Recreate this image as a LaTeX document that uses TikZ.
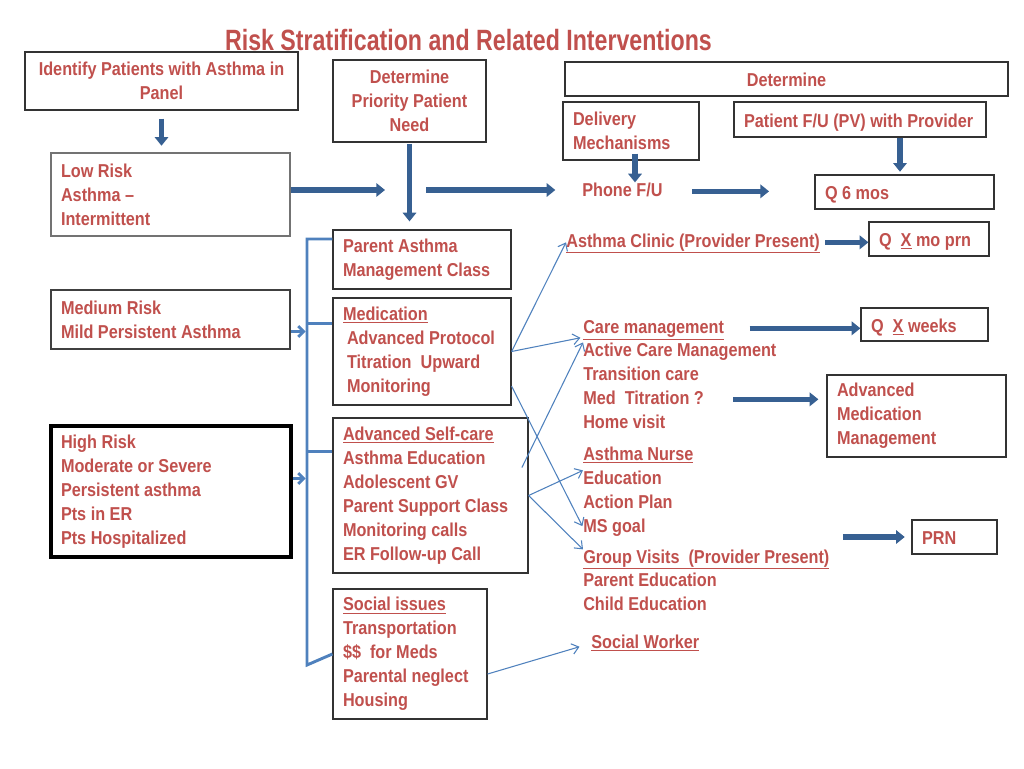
\documentclass[tikz,border=0pt]{standalone}
\usepackage{fontspec}
\setmainfont{Liberation Sans}[FakeStretch=0.87]
\newfontfamily\titlefamily{Liberation Sans}[FakeStretch=0.79]
\usetikzlibrary{arrows.meta, calc}
\definecolor{Ctxt}{RGB}{192,80,77}
\definecolor{Cthick}{RGB}{55,96,146}
\definecolor{Cthin}{RGB}{79,129,189}
\tikzset{
  plainbox/.style={draw=black!80, line width=0.9pt, inner xsep=7.5pt, inner ysep=0pt,
    text=Ctxt, font=\fontsize{14}{18}\selectfont\bfseries},
  leftbox/.style={plainbox, align=flush left},
  midbox/.style={plainbox, align=flush center},
  onebox/.style={text height=11.7pt, text depth=0pt},
  freetext/.style={inner sep=0pt, anchor=base west, text=Ctxt, text height=10pt, text depth=3pt,
    font=\fontsize{14}{18}\selectfont\bfseries},
  thickarr/.style={-{Triangle[length=6.5pt, width=10pt]}, line width=3.8pt, draw=Cthick},
  thinarr/.style={-{Straight Barb[length=5pt, width=8pt]}, line width=0.8pt, draw=Cthin},
  bracket/.style={line width=2.2pt, draw=Cthin},
  brarr/.style={bracket, -{Straight Barb[length=4pt, width=8pt]}, shorten >=1pt},
}

\begin{document}
\begin{tikzpicture}[x=0.75pt, y=-0.75pt]
\useasboundingbox (0,0) rectangle (1024,768);

%%==========================================================================
%% TITLE
%%==========================================================================
\node[font=\titlefamily\fontsize{22}{26}\selectfont\bfseries, text=Ctxt, anchor=base]
  (title) at (468.5,50) {Risk Stratification and Related Interventions};

%%==========================================================================
%% LEFT COLUMN — risk levels
%%==========================================================================
\node[midbox, minimum width=204.75pt, minimum height=43.5pt] (ident) at (161.5,81)
  {Identify Patients with Asthma in\\Panel};

\node[leftbox, draw=black!55, text width=164.25pt, minimum height=62.25pt] (low) at (170.5,194.5)
  {Low Risk\\Asthma --\\Intermittent};

\node[leftbox, draw=black!75, line width=2.2pt, text width=164.25pt, minimum height=44.25pt]
  (mid) at (170.5,319.5)
  {Medium Risk\\Mild Persistent Asthma};

\node[leftbox, draw=black, line width=3pt, text width=165pt, minimum height=98.25pt]
  (high) at (171,491.5)
  {High Risk\\Moderate or Severe\\Persistent asthma\\Pts in ER\\Pts Hospitalized};

%%==========================================================================
%% MIDDLE COLUMN — patient need
%%==========================================================================
\node[midbox, minimum width=114.75pt, minimum height=61.5pt] (prio) at (409.5,101)
  {Determine\\Priority Patient\\Need};

\node[leftbox, text width=118.5pt, minimum height=44.25pt] (parent) at (422,259.5)
  {Parent Asthma\\Management Class};

\node[leftbox, text width=118.5pt, minimum height=80.25pt] (med) at (422,351.5)
  {\underline{Medication}\\\hspace{3pt}Advanced Protocol\\\hspace{3pt}Titration\ \ Upward\\\hspace{3pt}Monitoring};

\node[leftbox, text width=131.25pt, minimum height=116.25pt] (self) at (430.5,495.5)
  {\underline{Advanced Self-care}\\Asthma Education\\Adolescent GV\\Parent Support Class\\Monitoring calls\\ER Follow-up Call};

\node[leftbox, text width=100.5pt, minimum height=97.5pt] (social) at (410,654)
  {\underline{Social issues}\\Transportation\\\$\$\ \ for Meds\\Parental neglect\\Housing};

%%==========================================================================
%% RIGHT SIDE — delivery and follow-up
%%==========================================================================
\node[midbox, onebox, minimum width=332.25pt, minimum height=25.5pt] (determ) at (786.5,79) {Determine};

\node[leftbox, text width=87pt, minimum height=43.5pt] (deliv) at (631,131)
  {Delivery\\Mechanisms};

\node[leftbox, onebox, text width=174pt, minimum height=26.25pt] (pfu) at (860,119.5)
  {Patient F/U (PV) with Provider};

\node[freetext] (phone) at (582,196) {Phone F/U};
\node[freetext] (clinic) at (566,247) {\underline{Asthma Clinic (Provider Present)}};

\node[freetext] (cmh) at (583,333) {\underline{Care management}};
\node[freetext] (acm) at (583,356) {Active Care Management};
\node[freetext] (trans) at (583,380) {Transition care};
\node[freetext] (medtit) at (583,404) {Med\ \ Titration ?};
\node[freetext] (home) at (583,428) {Home visit};

\node[freetext] (nurse) at (583,460) {\underline{Asthma Nurse}};
\node[freetext] (edu) at (583,484) {Education};
\node[freetext] (plan) at (583,508) {Action Plan};
\node[freetext] (msgoal) at (583,532) {MS goal};

\node[freetext] (gv) at (583,563) {\underline{Group Visits\ \ (Provider Present)}};
\node[freetext] (pedu) at (583,586) {Parent Education};
\node[freetext] (cedu) at (583,610) {Child Education};

\node[freetext] (sw) at (591,648) {\underline{Social Worker}};

\node[leftbox, onebox, text width=119.25pt, minimum height=25.5pt] (q6) at (904.5,192) {Q 6 mos};
\node[leftbox, onebox, text width=75pt, minimum height=25.5pt] (qxmo) at (929,239) {Q\ \ \underline{X} mo prn};
\node[leftbox, onebox, text width=80.25pt, minimum height=24.75pt] (qxw) at (924.5,324.5) {Q\ \ \underline{X} weeks};
\node[leftbox, text width=119.25pt, minimum height=61.5pt] (advmed) at (916.5,416)
  {Advanced\\Medication\\Management};
\node[leftbox, onebox, text width=48.75pt, minimum height=25.5pt] (prn) at (954.5,537) {PRN};

%%==========================================================================
%% THICK ARROWS
%%==========================================================================
\coordinate (lowtip) at (385,190);
\coordinate (phonetail) at (426,190);
\coordinate (delivdrop) at ($(deliv.south)+(4,-7)$);
\coordinate (pfudrop) at ($(pfu.south)+(40,0)$);

\draw[thickarr, shorten <=6pt, shorten >=5pt] (ident.south) -- (ident.south |- low.north);
\draw[thickarr] (low.east |- lowtip) -- (lowtip);
\draw[thickarr, shorten <=1pt, shorten >=6pt] (prio.south) -- (prio.south |- parent.north);
\draw[thickarr, shorten >=20pt] (phonetail) -- (phone.west |- phonetail);
\draw[thickarr] (delivdrop) -- (delivdrop |- phone.north);
\draw[thickarr, shorten <=22pt, shorten >=34pt] (phone.east) -- (phone.east -| q6.west);
\draw[thickarr, shorten >=2pt] (pfudrop) -- (pfudrop |- q6.north);
\draw[thickarr, shorten <=4pt] (clinic.east) -- (clinic.east -| qxmo.west);
\draw[thickarr, shorten <=19pt] (cmh.east) -- (cmh.east -| qxw.west);
\draw[thickarr, shorten <=22pt, shorten >=6pt] (medtit.east) -- (medtit.east -| advmed.west);
\draw[thickarr, shorten <=10pt, shorten >=5pt] (gv.east |- prn.west) -- (prn.west);

%%==========================================================================
%% THIN ARROWS
%%==========================================================================
\draw[thinarr] (med.east) -- (clinic.west);
\draw[thinarr, shorten >=2pt] (med.east) -- (cmh.south west);
\draw[thinarr] ([xshift=-5pt, yshift=21pt]self.east) -- (acm.north west);
\draw[thinarr, shorten >=1pt] ([yshift=-26pt]med.east) -- (msgoal.west);
\draw[thinarr] (self.east) -- (edu.north west);
\draw[thinarr] (self.east) -- (gv.north west);
\draw[thinarr, shorten >=9pt] ([yshift=-15pt]social.east) -- (sw.west);

%%==========================================================================
%% BRACKET
%%==========================================================================
\coordinate (brtop) at (307,239);
\coordinate (brbot) at (307,665);
\coordinate (medjoin) at ($(med.north west)+(0,26)$);
\coordinate (selfjoin) at ($(self.north west)+(0,34)$);
\coordinate (midout) at ($(mid.east)+(0,12)$);
\coordinate (highout) at ($(high.east)+(0,-13)$);

\draw[bracket] (parent.west |- brtop) -- (brtop) -- (brbot) -- (social.west);
\draw[bracket] (medjoin) -- (medjoin -| brtop);
\draw[bracket] (selfjoin) -- (selfjoin -| brtop);
\draw[brarr] (midout) -- (midout -| brtop);
\draw[brarr] (highout) -- (highout -| brtop);

\end{tikzpicture}
\end{document}
